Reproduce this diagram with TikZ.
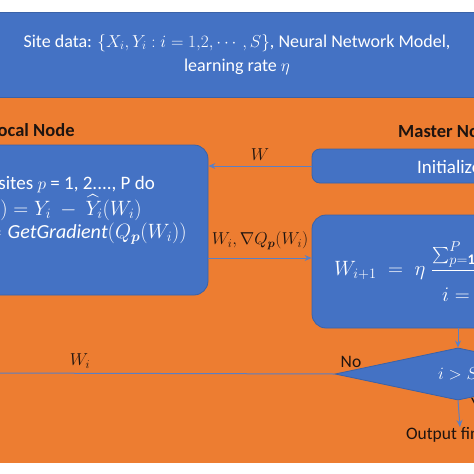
\documentclass[tikz,border=0pt]{standalone}
\usepackage{fontspec}
\setmainfont{Carlito}
\usepackage{amsmath,bm}
\usetikzlibrary{shapes.geometric,arrows.meta}

\definecolor{boxblue}{HTML}{4472C4}
\definecolor{edgeblue}{HTML}{3A62A8}
\definecolor{bgorange}{HTML}{ED7D31}
\definecolor{arrowblue}{HTML}{5B7FC4}
\definecolor{darktext}{HTML}{1E1410}

\newcommand{\smallsum}{\mathop{\mbox{\scalebox{0.78}{$\sum$}}}\nolimits}

\tikzset{
  box/.style={draw=edgeblue, fill=boxblue, rounded corners=14pt, inner sep=0pt, line width=0.8pt},
  arr/.style={draw=arrowblue, line width=1pt, -{Stealth[length=7pt,width=6pt]}},
  wire/.style={draw=arrowblue, line width=1pt},
  wtext/.style={text=white, font=\fontsize{19}{23}\selectfont, inner sep=0pt},
  mtext/.style={text=white, font=\fontsize{20}{24}\selectfont, inner sep=0pt},
  otext/.style={text=darktext, font=\fontsize{17.5}{21}\selectfont, inner sep=0pt},
  title/.style={text=darktext, font=\bfseries\fontsize{18.5}{22}\selectfont, inner sep=0pt},
  cond/.style={diamond, minimum width=246pt, minimum height=42pt, inner sep=0pt, draw=edgeblue, fill=boxblue, line width=0.8pt, text=white, font=\fontsize{18}{22}\selectfont}
}

\begin{document}
\begin{tikzpicture}[x=1pt,y=-1pt]
  \useasboundingbox (0,0) rectangle (474,474);
  \clip (0,0) rectangle (474,474);

  % background
  \fill[white] (0,0) rectangle (474,474);
  \fill[bgorange] (0,97) rectangle (474,463);
  \node[fill=boxblue, draw=edgeblue, minimum width=480pt, minimum height=85pt, inner sep=0pt,
        text=white, align=center, font=\fontsize{18}{24}\selectfont] (header) at (237,54.5)
       {Site data: $\{X_i, Y_i : i = 1{,}2, \cdots, S\}$,\ Neural Network Model,\\ learning rate $\eta$};

  % local node
  \node[title, anchor=west] (localtitle) at (-10,130) {Local Node};
  \node[box, minimum width=308pt, minimum height=150pt] (local) at (54,220) {};
  \node[wtext, anchor=east] (step1) at (155,185) {For all sites $p$ = 1, 2...., P do};
  \node[mtext, anchor=east] (step2) at (142,208) {$Q_{\bm p}(W_i, Y_i) = Y_i\ -\ \widehat{Y}_i(W_i)$};
  \node[mtext, anchor=east] (step3) at (187,234) {$\nabla Q_{\bm p}(W_i) = \mathit{GetGradient}(Q_{\bm p}(W_i))$};

  % master node
  \node[title, anchor=west] (mastertitle) at (398,131) {Master Node};
  \node[box, rounded corners=8pt, minimum width=308pt, minimum height=34pt] (init) at (466,166) {};
  \node[wtext, anchor=west] at (417,167) {Initialize $W$};
  \node[box, minimum width=308pt, minimum height=113pt] (update) at (466,271.5) {};
  \node[mtext, anchor=west, font=\fontsize{21}{25}\selectfont] (rule) at (334,266)
       {$W_{i+1} \;=\; \eta\;\dfrac{\smallsum_{p=\mathbf{1}}^{P}(W_i - \nabla Q_{\bm p}(W_i))}{P}$};
  \node[mtext, anchor=west, font=\fontsize{22}{26}\selectfont] (incr) at (442,295) {$i = i + 1$};
  \node[cond] (cond) at (458,374) {$i > S$};
  \node[otext, anchor=north] (output) at (460,427) {Output final $W$};

  % connectors
  \coordinate (gy) at (0,258);
  \coordinate (back) at (-10,373);
  \draw[arr] (init.west) -- (init.west -| local.east) node[midway, above=5pt, otext] {$W$};
  \draw[arr] (gy -| local.east) -- (gy -| update.west) node[midway, above=8pt, otext, font=\fontsize{18.5}{22}\selectfont] {$W_i, \nabla Q_{\bm p}(W_i)$};
  \draw[arr] (cond.north |- update.south) -- (cond.north);
  \draw[arr] (cond.south) -- (output.north);
  \draw[wire] (cond.west) -- (back);

  \node[otext] at (80,361) {$W_i$};
  \node[otext] at (351,362) {No};
  \node[otext, anchor=west] at (471,404) {Yes};
\end{tikzpicture}
\end{document}
